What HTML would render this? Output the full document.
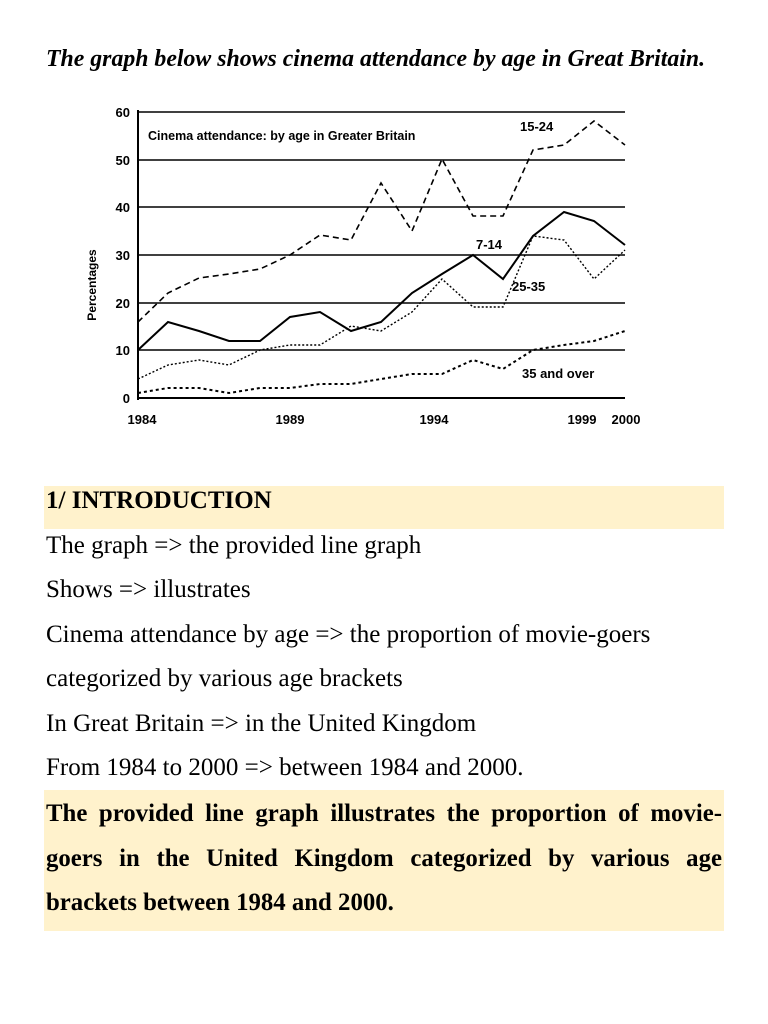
<!DOCTYPE html>
<html><head><meta charset="utf-8"><style>
body{margin:0;background:#fff;width:768px;height:1024px;position:relative;font-family:"Liberation Serif",serif;color:#000}
.t{position:absolute;left:46px;font-size:25px;line-height:1;white-space:nowrap}
.j{width:676px;text-align:justify;text-align-last:justify;white-space:nowrap;height:44.7px}
</style></head><body>
<div class="t" style="top:48px;font-style:italic;font-weight:bold;font-size:23.8px">The graph below shows cinema attendance by age in Great Britain.</div>
<svg style="position:absolute;left:0;top:0" width="768" height="460" font-family="Liberation Sans, sans-serif" font-weight="bold">
<g stroke="#000" stroke-width="1.6">
<line x1="138" y1="112" x2="625" y2="112"/><line x1="138" y1="160" x2="625" y2="160"/><line x1="138" y1="207" x2="625" y2="207"/><line x1="138" y1="255" x2="625" y2="255"/><line x1="138" y1="303" x2="625" y2="303"/><line x1="138" y1="350" x2="625" y2="350"/>
<line x1="138" y1="398" x2="625" y2="398" stroke-width="2"/><line x1="138" y1="110" x2="138" y2="400" stroke-width="2"/>
</g>
<g font-size="13" text-anchor="end"><text x="130" y="117">60</text><text x="130" y="165">50</text><text x="130" y="212">40</text><text x="130" y="260">30</text><text x="130" y="308">20</text><text x="130" y="355">10</text><text x="130" y="403">0</text></g>
<g font-size="13" text-anchor="middle"><text x="142" y="424">1984</text><text x="290" y="424">1989</text><text x="434" y="424">1994</text><text x="582" y="424">1999</text><text x="626" y="424">2000</text></g>
<text transform="translate(96,285) rotate(-90)" font-size="12" text-anchor="middle">Percentages</text>
<text x="148" y="140" font-size="12.5">Cinema attendance: by age in Greater Britain</text>
<g font-size="13"><text x="520" y="131">15-24</text><text x="476" y="249">7-14</text><text x="512" y="291">25-35</text><text x="522" y="378">35 and over</text></g>
<g fill="none" stroke="#000">
<polyline stroke-width="1.6" stroke-dasharray="6,4" points="138,322 168,293 199,278 229,274 260,269 290,255 320,235 351,240 381,183 412,231 442,159 473,216 503,216 533,150 564,145 594,121 625,145"/>
<polyline stroke-width="2" points="138,350 168,322 199,331 229,341 260,341 290,317 320,312 351,331 381,322 412,293 442,274 473,255 503,279 533,236 564,212 594,221 625,245"/>
<polyline stroke-width="1.4" stroke-dasharray="2,2" points="138,379 168,365 199,360 229,365 260,350 290,345 320,345 351,326 381,331 412,312 442,279 473,307 503,307 533,236 564,240 594,279 625,250"/>
<polyline stroke-width="2" stroke-dasharray="3,3" points="138,393 168,388 199,388 229,393 260,388 290,388 320,384 351,384 381,379 412,374 442,374 473,360 503,369 533,350 564,345 594,341 625,331"/>
</g>
</svg>
<div style="position:absolute;left:44px;top:486px;width:680px;height:43px;background:#fff2cc"></div>
<div class="t" style="top:488px;font-weight:bold">1/ INTRODUCTION</div>
<div class="t" style="top:533px">The graph =&gt; the provided line graph</div>
<div class="t" style="top:577px">Shows =&gt; illustrates</div>
<div class="t" style="top:622px">Cinema attendance by age =&gt; the proportion of movie-goers</div>
<div class="t" style="top:666px">categorized by various age brackets</div>
<div class="t" style="top:711px">In Great Britain =&gt; in the United Kingdom</div>
<div class="t" style="top:755px">From 1984 to 2000 =&gt; between 1984 and 2000.</div>
<div style="position:absolute;left:44px;top:790px;width:680px;height:141px;background:#fff2cc"></div>
<div style="position:absolute;left:46px;top:792px;font-size:24.8px;font-weight:bold;line-height:44.7px">
<div class="j">The provided line graph illustrates the proportion of movie-</div>
<div class="j">goers in the United Kingdom categorized by various age</div>
<div style="white-space:nowrap">brackets between 1984 and 2000.</div>
</div>
</body></html>
